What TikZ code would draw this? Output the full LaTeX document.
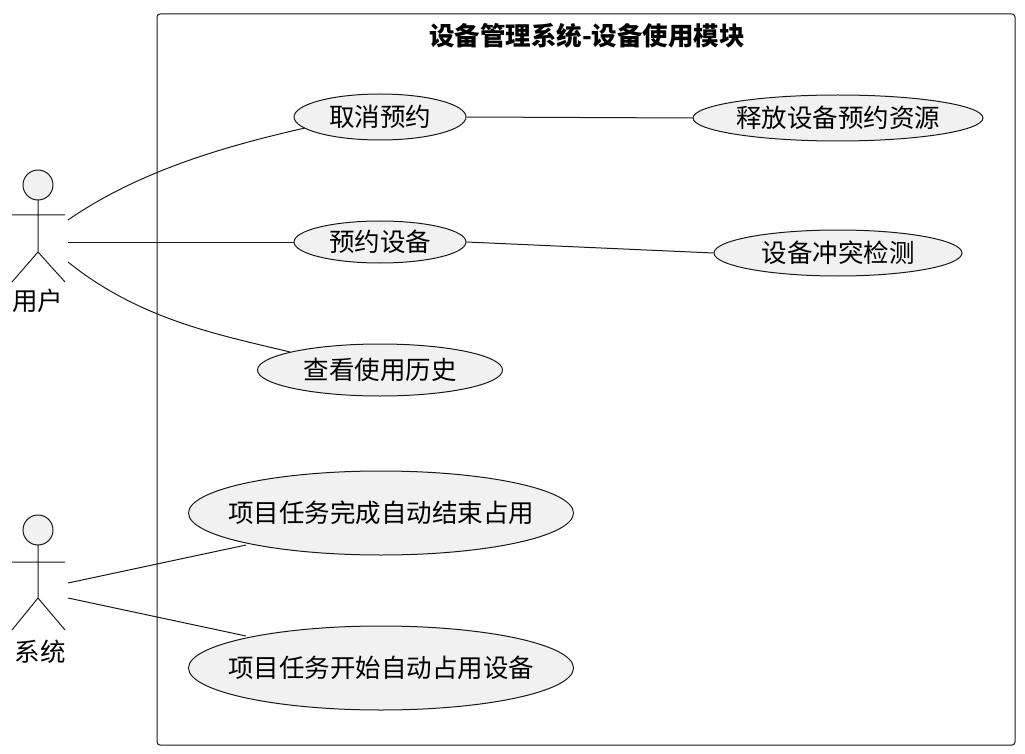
\documentclass[tikz,border=0pt]{standalone}
\usepackage{fontspec}
\setmainfont{Noto Sans CJK SC}
\usetikzlibrary{shapes.geometric}
\definecolor{uc}{HTML}{F1F1F1}
\definecolor{ln}{HTML}{181818}
\begin{document}
\begin{tikzpicture}[x=1pt,y=-1pt,
  uccase/.style={ellipse,draw=ln,fill=uc,line width=1pt,inner sep=0pt,font=\fontsize{25.5}{30}\selectfont},
  conn/.style={draw=ln,line width=1pt},
  lbl/.style={font=\fontsize{25.5}{30}\selectfont}]
\useasboundingbox (0,0) rectangle (1025,754);
\draw[ln,line width=1pt,rounded corners=3pt] (157,14) rectangle (1015,745);
\node[font=\fontsize{25.5}{30}\selectfont\bfseries] (title) at (587,36) {设备管理系统-设备使用模块};
% actor user
\draw[conn,fill=uc] (38,185) circle (15);
\draw[conn] (38,200) -- (38,252) (12,215) -- (65,215) (38,252) -- (12,282) (38,252) -- (65,282);
\node[lbl] (user) at (38,301) {用户};
\coordinate (u1) at (68,220); \coordinate (u2) at (68,242); \coordinate (u3) at (68,262);
% actor system
\draw[conn,fill=uc] (38,530) circle (15);
\draw[conn] (38,545) -- (38,598) (12,562) -- (65,562) (38,598) -- (12,630) (38,598) -- (65,630);
\node[lbl] (sys) at (40,652) {系统};
\coordinate (s1) at (68,583); \coordinate (s2) at (68,598);
% cases
\node[uccase,minimum width=172,minimum height=46] (c1) at (380,117) {取消预约};
\node[uccase,minimum width=290,minimum height=46] (r1) at (838,118) {释放设备预约资源};
\node[uccase,minimum width=172,minimum height=42] (c2) at (380,242) {预约设备};
\node[uccase,minimum width=248,minimum height=46] (r2) at (838,253) {设备冲突检测};
\node[uccase,minimum width=245,minimum height=52] (c3) at (380,370) {查看使用历史};
\node[uccase,inner xsep=-25pt,minimum width=385,minimum height=84] (p1) at (381,513) {项目任务完成自动结束占用};
\node[uccase,inner xsep=-25pt,minimum width=385,minimum height=84] (p2) at (381,668) {项目任务开始自动占用设备};
\coordinate (c1in) at (305,128);
\coordinate (c3in) at (290,352);
\coordinate (p1in) at (246,545);
\coordinate (p2in) at (246,636);
% connectors
\draw[conn] (u1) .. controls (140,170) and (230,145) .. (c1in);
\draw[conn] (u2) -- (c2.west);
\draw[conn] (u3) .. controls (140,320) and (220,335) .. (c3in);
\draw[conn] (c1.east) -- (r1.west);
\draw[conn] (c2.east) -- (r2.west);
\draw[conn] (s1) -- (p1in);
\draw[conn] (s2) -- (p2in);
\end{tikzpicture}
\end{document}
